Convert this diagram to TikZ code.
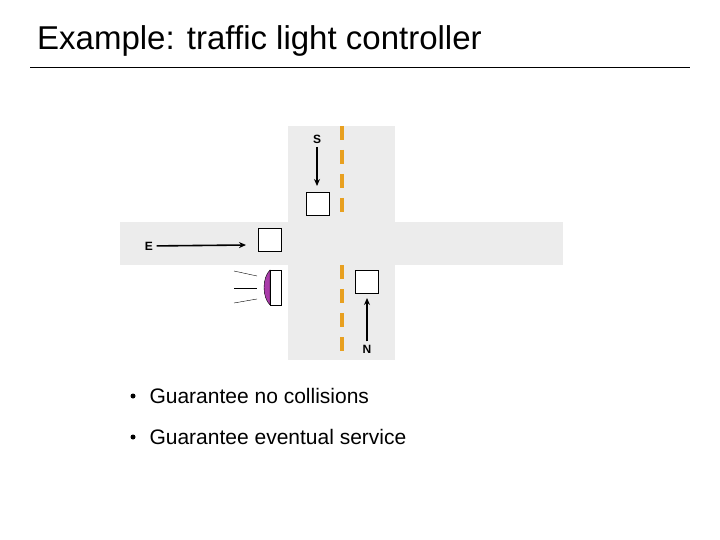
\documentclass[tikz,border=0pt]{standalone}
\usepackage{fontspec}
\setmainfont{Liberation Sans}
\usetikzlibrary{arrows.meta}
\definecolor{roadgray}{RGB}{236,236,236}
\definecolor{lineorange}{RGB}{232,160,32}
\definecolor{lamppurple}{RGB}{170,60,170}
\tikzset{
  car/.style={draw=black, fill=white, minimum size=23pt, inner sep=0pt},
  lbl/.style={font=\fontsize{12}{12}\selectfont\bfseries},
  move/.style={-{Stealth[length=7pt,width=6pt]}, line width=1.6pt},
  item/.style={anchor=west, font=\fontsize{21}{21}\selectfont}
}
\begin{document}
\begin{tikzpicture}[x=1pt, y=-1pt]
        \useasboundingbox (0,0) rectangle (720,540);
        % title
        \node[anchor=base west, font=\fontsize{33}{33}\selectfont, inner sep=0pt] (title) at (37,50) {Example: traffic light controller};
        \draw (30,67) -- (690,67);

        % roads
        \fill[roadgray] (288,126) rectangle (395,360);
        \fill[roadgray] (120,222) rectangle (563,265);
        % center line
        \draw[lineorange, line width=4pt, dash pattern=on 14pt off 10pt] (342,126) -- (342,222);
        \draw[lineorange, line width=4pt, dash pattern=on 14pt off 10pt] (342,265) -- (342,360);

        % cars
        \node[car] (carS) at (317.5,203.5) {};
        \node[car] (carE) at (269.5,239.5) {};
        \node[car] (carN) at (366.5,281.5) {};

        % labels and arrows
        \node[lbl] (S) at (317,139) {S};
        \node[lbl] (E) at (149,246) {E};
        \node[lbl] (N) at (367,349) {N};
        \coordinate (tipS) at (317,186);
        \coordinate (tipE) at (246,245);
        \coordinate (tipN) at (367,298);
        \draw[move] (S) -- (tipS);
        \draw[move] (E) -- (tipE);
        \draw[move] (N) -- (tipN);

        % traffic light
        \draw[fill=lamppurple] (270,270) .. controls (262,278) and (262,297) .. (270,305) -- cycle;
        \draw[fill=white] (270,270) rectangle (281,305);
        \draw (234,271) -- (257,276);
        \draw (234,288) -- (257,288);
        \draw (234,303) -- (257,299);

        % bullets
        \fill (133,396) circle (2.5pt);
        \fill (133,437) circle (2.5pt);
        \node[item] (goal1) at (146,396) {Guarantee no collisions};
        \node[item] (goal2) at (146,437) {Guarantee eventual service};
\end{tikzpicture}
\end{document}
